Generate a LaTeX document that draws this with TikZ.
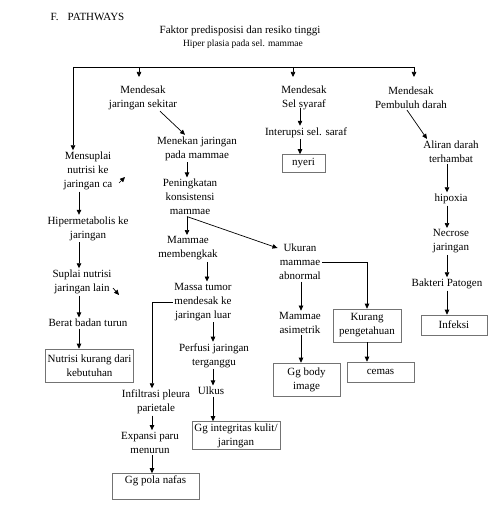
\documentclass[tikz,border=0pt]{standalone}
\usepackage{fontspec}
\setmainfont{Liberation Serif}
\usetikzlibrary{arrows.meta}
\begin{document}
\begin{tikzpicture}[x=1pt,y=-1pt,
  every node/.style={font=\fontsize{11}{14}\selectfont, inner sep=1.5pt, align=center},
  box/.style={draw=black!55, line width=0.6pt, inner sep=2pt},
  arr/.style={-{Triangle[length=5pt,width=4.5pt]}, line width=0.7pt},
  ln/.style={line width=0.7pt}]
\useasboundingbox[fill=white] (0,0) rectangle (492,513);

% heading
\node[anchor=west] (title) at (49,17) {F.\hspace{9pt}PATHWAYS};
\node (faktor) at (240,31) {Faktor predisposisi dan resiko tinggi};
\node[font=\fontsize{9.5}{11}\selectfont] (hiperpl) at (243,44) {Hiper plasia pada sel. mammae};

% first level
\node (mend1) at (143,97.5) {Mendesak\\jaringan sekitar};
\node (mend2) at (304,97.5) {Mendesak\\Sel syaraf};
\node (mend3) at (411,97.5) {Mendesak\\Pembuluh darah};

% left column
\node (mensuplai) at (88,171) {Mensuplai\\nutrisi ke\\jaringan ca};
\node (hipermet) at (88,228.5) {Hipermetabolis ke\\jaringan};
\node (suplai) at (82,282) {Suplai nutrisi\\jaringan lain};
\node (berat) at (88,323) {Berat badan turun};
\node[box, minimum width=87pt, minimum height=33pt] (nutrisi) at (89.5,365.5) {Nutrisi kurang dari\\kebutuhan};

% middle column
\node (menekan) at (197,148.5) {Menekan jaringan\\pada mammae};
\node (pening) at (190,197) {Peningkatan\\konsistensi\\mammae};
\node (membeng) at (188,248.5) {Mammae\\membengkak};
\node (massa) at (203,302) {Massa tumor\\mendesak ke\\jaringan luar};
\node (perfusi) at (214,355.5) {Perfusi jaringan\\terganggu};
\node (ulkus) at (211,391) {Ulkus};
\node[box, minimum width=88pt, minimum height=27pt] (integ) at (236,435.5) {Gg integritas kulit/\\jaringan};
\node (infil) at (156,402) {Infiltrasi pleura\\parietale};
\node (expansi) at (150,442.5) {Expansi paru\\menurun};
\node[box, minimum width=87pt, text height=8pt, text depth=14pt] (pola) at (155.5,486.5) {Gg pola nafas};

% syaraf column
\node (interupsi) at (306,132.5) {Interupsi sel. saraf};
\node[box, minimum width=43pt, minimum height=18pt] (nyeri) at (303.5,163.5) {nyeri};

% ukuran branch
\node (ukuran) at (300,262) {Ukuran\\mammae\\abnormal};
\node (asim) at (300,323) {Mammae\\asimetrik};
\node[box, minimum width=67pt, minimum height=33pt] (body) at (306.5,379.5) {Gg body\\image};
\node[box, minimum width=68pt, minimum height=33pt] (kurang) at (367,325.5) {Kurang\\pengetahuan};
\node[box, minimum width=67pt, minimum height=20pt] (cemas) at (380.5,372) {cemas};

% right column
\node (aliran) at (451,151.5) {Aliran darah\\terhambat};
\node (hipoxia) at (451,199) {hipoxia};
\node (necrose) at (451,241.5) {Necrose\\jaringan};
\node (bakteri) at (447,284) {Bakteri Patogen};
\node[box, minimum width=66pt, minimum height=20pt] (infeksi) at (454,325) {Infeksi};

% top distribution line
\coordinate (tl) at (73,67);
\coordinate (tr) at (414,67);
\draw[ln] (tl) -- (tr);
\draw[arr] (tl) -- (tl |- mensuplai.north);
\draw[arr] (139,67) -- (139,77);
\draw[arr] (293,67) -- (293,77);
\draw[arr] (tr) -- (414,77);

% diagonals from first level
\draw[arr] ([xshift=17pt]mend1.south) -- ([xshift=-12pt]menekan.north);
\coordinate (m2s) at (300,108);
\draw[arr] (m2s) -- (interupsi.north -| m2s);
\draw[arr] (interupsi.south -| m2s) -- (nyeri.north -| m2s);
\draw[arr] ([xshift=-4pt]mend3.south) -- ([xshift=-24pt]aliran.north);

% right column chain
\draw[arr] (aliran.south -| 447,0) -- (hipoxia.north -| 447,0);
\draw[arr] (hipoxia.south -| 447,0) -- (necrose.north -| 447,0);
\draw[arr] (necrose.south -| 447,0) -- (bakteri.north -| 447,0);
\draw[arr] (bakteri.south -| 447,0) -- (infeksi.north -| 447,0);

% left column chain
\draw[arr] (mensuplai.south -| 79,0) -- (hipermet.north -| 79,0);
\draw[arr] (hipermet.south -| 79,0) -- (suplai.north -| 79,0);
\draw[arr] (suplai.south -| 79,0) -- (berat.north -| 79,0);
\draw[arr] (berat.south -| 79,0) -- (nutrisi.north -| 79,0);
\coordinate (sa1) at (119,183); \coordinate (sa1e) at (125,177);
\draw[arr] (sa1) -- (sa1e);
\coordinate (sa2) at (113,288); \coordinate (sa2e) at (119,295);
\draw[arr] (sa2) -- (sa2e);

% middle chain
\draw[arr] (menekan.south -| 187,0) -- (pening.north -| 187,0);
\draw[arr] (pening.south -| 187,0) -- (membeng.north -| 187,0);
\draw[arr] (pening.south -| 187,0) -- ([yshift=14pt]ukuran.west);
\draw[arr] (membeng.south -| 207,0) -- (massa.north -| 207,0);
\draw[arr] (massa.south -| 213,0) -- (perfusi.north -| 213,0);
\draw[arr] (perfusi.south -| 213,0) -- (ulkus.north -| 213,0);
\draw[arr] (ulkus.south -| 213,0) -- (integ.north -| 213,0);
\draw[arr] (massa.west) -| (infil.north -| 152,0);
\draw[arr] (infil.south -| 152,0) -- (expansi.north -| 152,0);
\draw[arr] (expansi.south -| 152,0) -- (pola.north -| 152,0);

% ukuran branch
\draw[arr] (ukuran.south -| 301,0) -- (asim.north -| 301,0);
\draw[arr] (ukuran.east) -| (kurang.north);
\draw[arr] (asim.south -| 301,0) -- (body.north -| 301,0);
\draw[arr] (kurang.south) -- (cemas.north -| kurang.south);
\end{tikzpicture}
\end{document}
